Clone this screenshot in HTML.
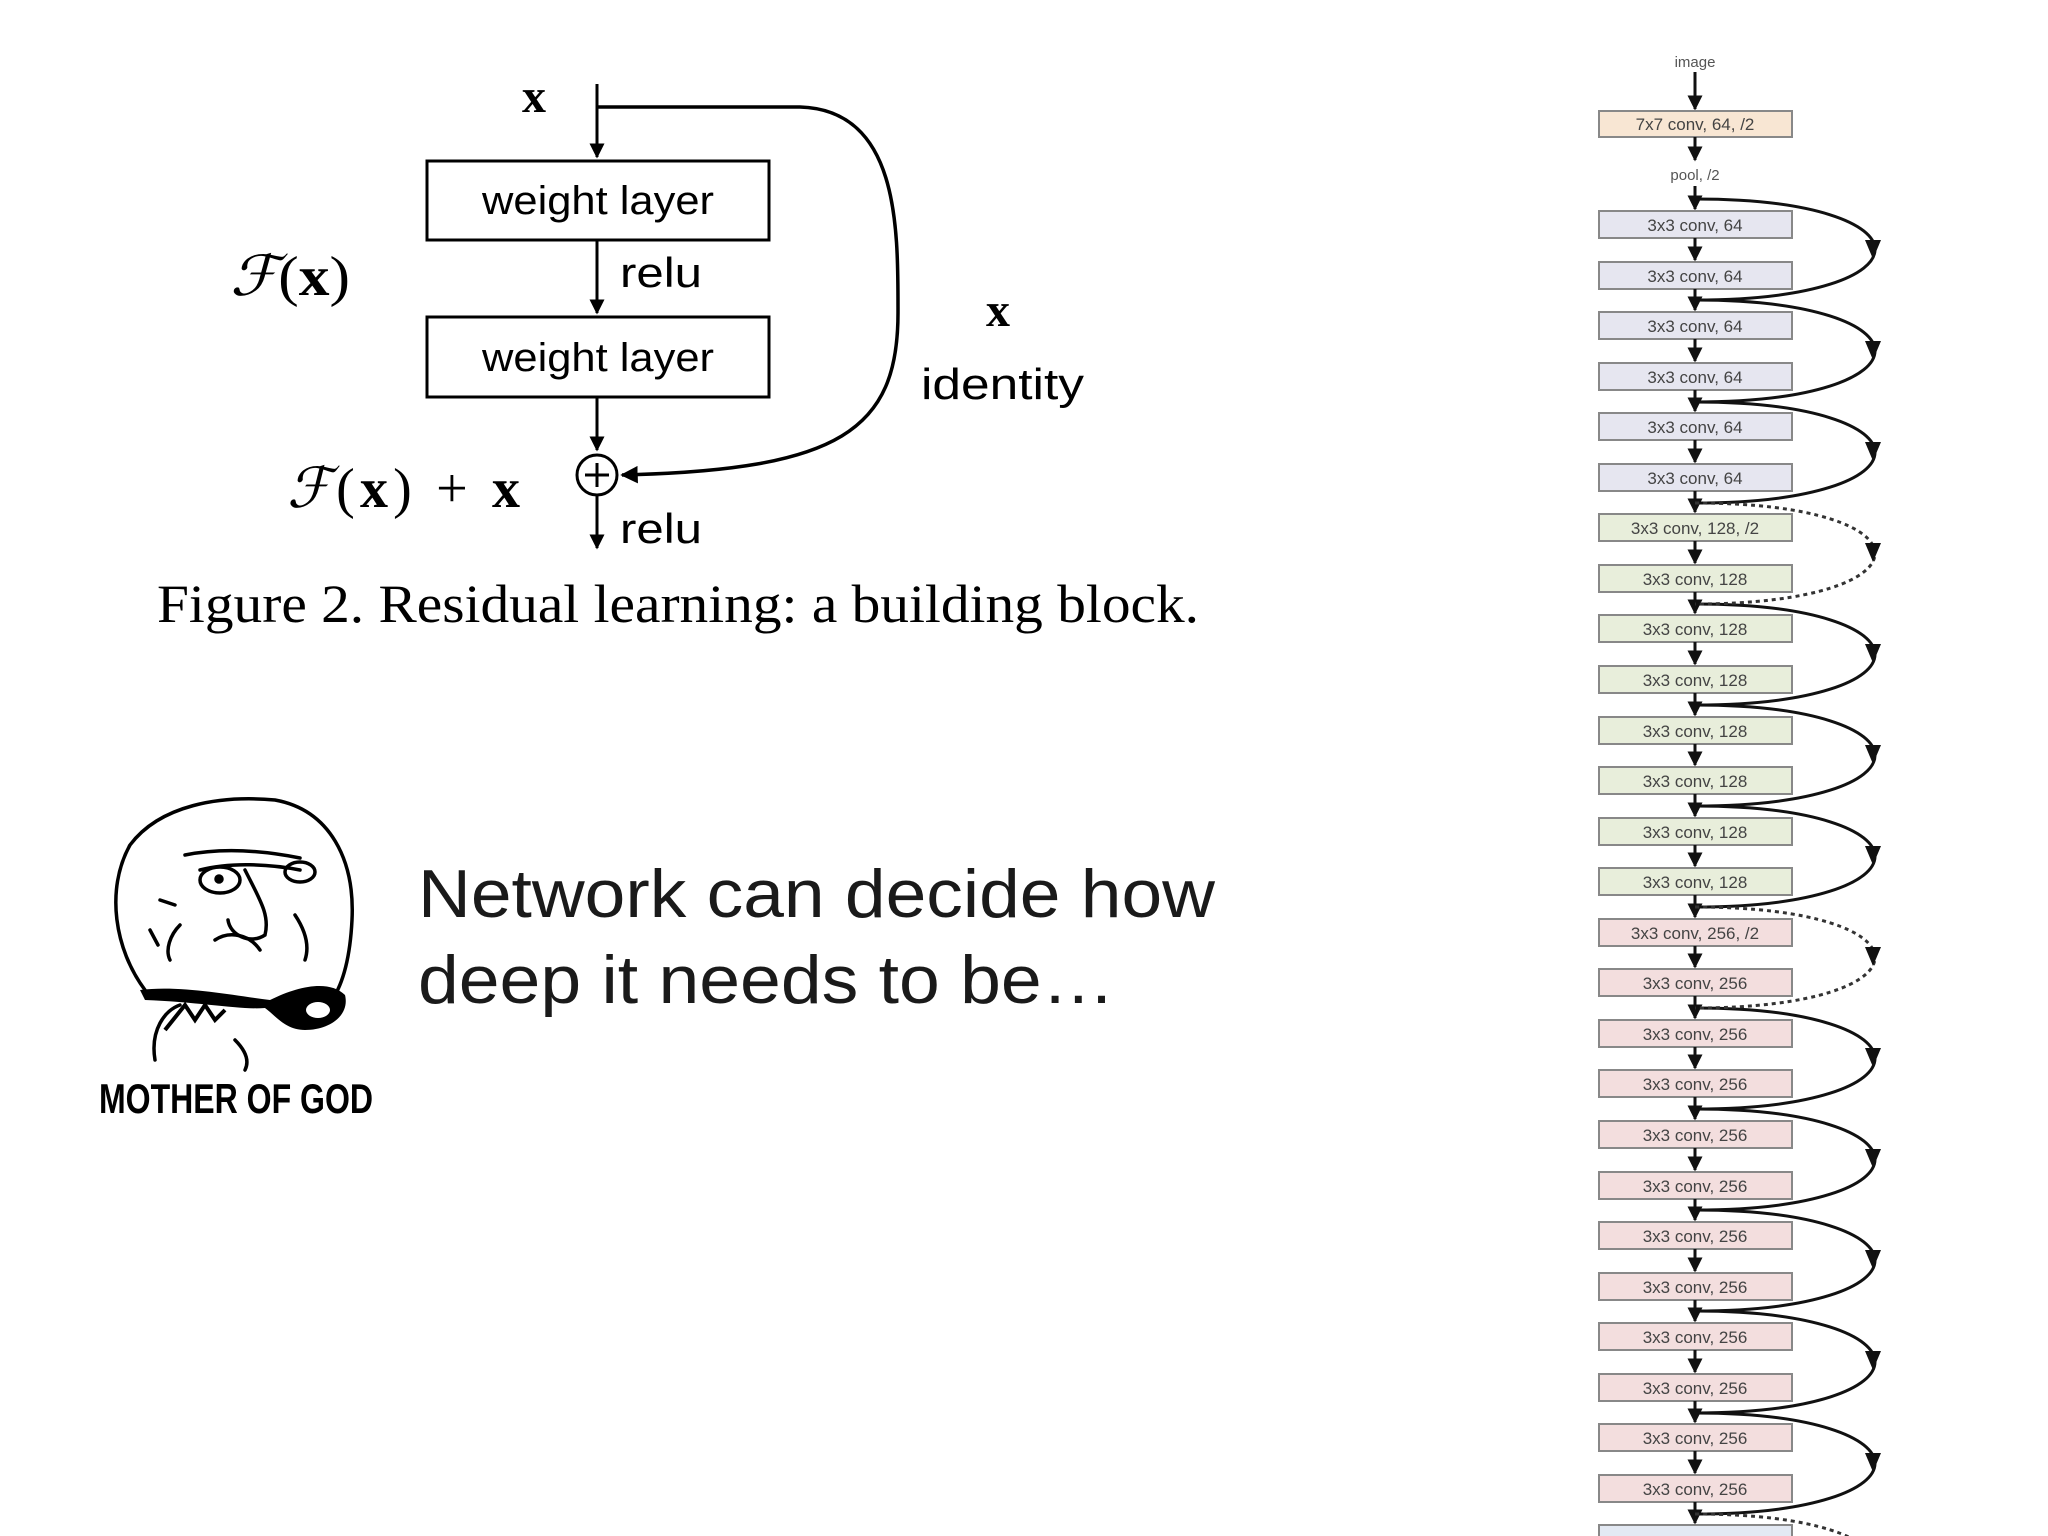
<!DOCTYPE html>
<html><head><meta charset="utf-8"><style>
html,body{margin:0;padding:0;background:#fff;width:2048px;height:1536px;overflow:hidden;}
svg{display:block;}
</style></head><body>
<svg width="2048" height="1536" viewBox="0 0 2048 1536" xmlns="http://www.w3.org/2000/svg">
<defs>
<marker id="ah" viewBox="0 0 10 10" refX="9" refY="5" markerWidth="5" markerHeight="5" orient="auto"><path d="M0,0 L10,5 L0,10 z" fill="#000"/></marker>
<marker id="as" viewBox="0 0 10 10" refX="9" refY="5" markerWidth="5" markerHeight="5" orient="auto"><path d="M0,0 L10,5 L0,10 z" fill="#111"/></marker>
</defs>
<rect width="2048" height="1536" fill="#fff"/>

<!-- Residual block -->
<g font-family="Liberation Sans, sans-serif">
<text x="534" y="112" font-family="Liberation Serif, serif" font-weight="bold" font-size="48" text-anchor="middle">x</text>
<line x1="597" y1="84" x2="597" y2="157" stroke="#000" stroke-width="3" marker-end="url(#ah)"/>
<rect x="427" y="161" width="342" height="79" fill="#fff" stroke="#000" stroke-width="3"/>
<text x="598" y="214" font-size="40" text-anchor="middle" textLength="232" lengthAdjust="spacingAndGlyphs">weight layer</text>
<line x1="597" y1="240" x2="597" y2="313" stroke="#000" stroke-width="3" marker-end="url(#ah)"/>
<text x="620" y="287" font-size="42" textLength="82" lengthAdjust="spacingAndGlyphs">relu</text>
<rect x="427" y="317" width="342" height="80" fill="#fff" stroke="#000" stroke-width="3"/>
<text x="598" y="371" font-size="40" text-anchor="middle" textLength="232" lengthAdjust="spacingAndGlyphs">weight layer</text>
<line x1="597" y1="397" x2="597" y2="450" stroke="#000" stroke-width="3" marker-end="url(#ah)"/>
<circle cx="597" cy="475" r="20" fill="#fff" stroke="#000" stroke-width="3"/>
<line x1="585" y1="475" x2="609" y2="475" stroke="#000" stroke-width="3"/>
<line x1="597" y1="463" x2="597" y2="487" stroke="#000" stroke-width="3"/>
<line x1="597" y1="495" x2="597" y2="548" stroke="#000" stroke-width="3" marker-end="url(#ah)"/>
<text x="620" y="543" font-size="42" textLength="82" lengthAdjust="spacingAndGlyphs">relu</text>
<path d="M597,107 L800,107 C900,110 898,230 898,313 C898,430 840,470 622,475" fill="none" stroke="#000" stroke-width="3.5" marker-end="url(#ah)"/>
<text x="998" y="326" font-family="Liberation Serif, serif" font-weight="bold" font-size="48" text-anchor="middle">x</text>
<text x="921" y="399" font-size="44" textLength="163" lengthAdjust="spacingAndGlyphs">identity</text>
<text x="230" y="295" font-family="Liberation Serif, serif" font-size="56" textLength="120" lengthAdjust="spacingAndGlyphs"><tspan font-style="italic">ℱ</tspan>(<tspan font-weight="bold">x</tspan>)</text>
<text x="287" y="507" font-family="Liberation Serif, serif" font-size="56" textLength="233" lengthAdjust="spacing"><tspan font-style="italic">ℱ</tspan>(<tspan font-weight="bold">x</tspan>) + <tspan font-weight="bold">x</tspan></text>
<text x="157" y="622" font-family="Liberation Serif, serif" font-size="54" textLength="1042" lengthAdjust="spacingAndGlyphs">Figure 2. Residual learning: a building block.</text>
</g>

<!-- Text -->
<text x="418" y="917" font-family="Liberation Sans, sans-serif" font-size="68" fill="#1a1a1a" textLength="797" lengthAdjust="spacingAndGlyphs">Network can decide how</text>
<text x="418" y="1003" font-family="Liberation Sans, sans-serif" font-size="68" fill="#1a1a1a" textLength="697" lengthAdjust="spacingAndGlyphs">deep it needs to be…</text>

<!-- Meme -->
<g fill="none" stroke="#000" stroke-width="3.5" stroke-linecap="round">
<path d="M145,990 C115,950 105,890 130,845 C160,805 220,795 275,800 C330,810 355,860 352,920 C350,960 342,985 332,1000"/>
<path d="M185,855 C220,848 260,850 300,858"/>
<path d="M200,870 C230,862 270,864 300,870"/>
<ellipse cx="220" cy="880" rx="20" ry="13"/>
<circle cx="219" cy="879" r="3" fill="#000"/>
<ellipse cx="300" cy="872" rx="15" ry="10"/>
<path d="M245,870 C260,900 270,915 265,935 C250,945 230,935 228,920"/>
<path d="M215,940 C230,930 250,935 260,950"/>
<path d="M160,900 L175,905 M150,930 L158,945 M180,925 C170,935 165,950 170,960 M295,915 C305,930 310,945 305,960"/>
<path d="M155,1060 C150,1030 165,1010 180,1005 M235,1040 C245,1050 250,1060 245,1070"/>
</g>
<path d="M140,990 C180,985 230,995 270,1000 C300,985 330,980 345,995 C350,1015 330,1030 305,1030 C285,1030 275,1015 265,1008 C240,1010 200,1002 145,1000 Z" fill="#000"/>
<ellipse cx="318" cy="1010" rx="12" ry="8" fill="#fff"/>
<path d="M165,1030 L185,1005 L195,1020 L205,1005 L215,1020 L225,1010" fill="none" stroke="#000" stroke-width="4"/>
<text x="236" y="1113" font-family="Liberation Sans, sans-serif" font-weight="bold" font-size="42" text-anchor="middle" textLength="274" lengthAdjust="spacingAndGlyphs">MOTHER OF GOD</text>

<!-- ResNet column -->
<g font-family="Liberation Sans, sans-serif" font-size="17" fill="#444" text-anchor="middle">
<text x="1695" y="67" font-size="15" fill="#555">image</text>
<line x1="1695" y1="72" x2="1695" y2="109" stroke="#111" stroke-width="3" marker-end="url(#as)"/>
<rect x="1599" y="111" width="193" height="26" fill="#f8e6d3" stroke="#888" stroke-width="2"/>
<text x="1695" y="130">7x7 conv, 64, /2</text>
<line x1="1695" y1="137" x2="1695" y2="160" stroke="#111" stroke-width="3" marker-end="url(#as)"/>
<text x="1695" y="180" font-size="15" fill="#555">pool, /2</text>
<line x1="1695" y1="186" x2="1695" y2="209" stroke="#111" stroke-width="3" marker-end="url(#as)"/>

<g stroke="#888" stroke-width="2">
<rect x="1599" y="211" width="193" height="27" fill="#e6e6f0"/>
<rect x="1599" y="262" width="193" height="27" fill="#e6e6f0"/>
<rect x="1599" y="312" width="193" height="27" fill="#e6e6f0"/>
<rect x="1599" y="363" width="193" height="27" fill="#e6e6f0"/>
<rect x="1599" y="413" width="193" height="27" fill="#e6e6f0"/>
<rect x="1599" y="464" width="193" height="27" fill="#e6e6f0"/>
<rect x="1599" y="514" width="193" height="27" fill="#e8eedb"/>
<rect x="1599" y="565" width="193" height="27" fill="#e8eedb"/>
<rect x="1599" y="615" width="193" height="27" fill="#e8eedb"/>
<rect x="1599" y="666" width="193" height="27" fill="#e8eedb"/>
<rect x="1599" y="717" width="193" height="27" fill="#e8eedb"/>
<rect x="1599" y="767" width="193" height="27" fill="#e8eedb"/>
<rect x="1599" y="818" width="193" height="27" fill="#e8eedb"/>
<rect x="1599" y="868" width="193" height="27" fill="#e8eedb"/>
<rect x="1599" y="919" width="193" height="27" fill="#f3dede"/>
<rect x="1599" y="969" width="193" height="27" fill="#f3dede"/>
<rect x="1599" y="1020" width="193" height="27" fill="#f3dede"/>
<rect x="1599" y="1070" width="193" height="27" fill="#f3dede"/>
<rect x="1599" y="1121" width="193" height="27" fill="#f3dede"/>
<rect x="1599" y="1172" width="193" height="27" fill="#f3dede"/>
<rect x="1599" y="1222" width="193" height="27" fill="#f3dede"/>
<rect x="1599" y="1273" width="193" height="27" fill="#f3dede"/>
<rect x="1599" y="1323" width="193" height="27" fill="#f3dede"/>
<rect x="1599" y="1374" width="193" height="27" fill="#f3dede"/>
<rect x="1599" y="1424" width="193" height="27" fill="#f3dede"/>
<rect x="1599" y="1475" width="193" height="27" fill="#f3dede"/>
<rect x="1599" y="1525" width="193" height="27" fill="#e3e9f3"/>
</g>
<text x="1695" y="231">3x3 conv, 64</text>
<text x="1695" y="282">3x3 conv, 64</text>
<text x="1695" y="332">3x3 conv, 64</text>
<text x="1695" y="383">3x3 conv, 64</text>
<text x="1695" y="433">3x3 conv, 64</text>
<text x="1695" y="484">3x3 conv, 64</text>
<text x="1695" y="534">3x3 conv, 128, /2</text>
<text x="1695" y="585">3x3 conv, 128</text>
<text x="1695" y="635">3x3 conv, 128</text>
<text x="1695" y="686">3x3 conv, 128</text>
<text x="1695" y="737">3x3 conv, 128</text>
<text x="1695" y="787">3x3 conv, 128</text>
<text x="1695" y="838">3x3 conv, 128</text>
<text x="1695" y="888">3x3 conv, 128</text>
<text x="1695" y="939">3x3 conv, 256, /2</text>
<text x="1695" y="989">3x3 conv, 256</text>
<text x="1695" y="1040">3x3 conv, 256</text>
<text x="1695" y="1090">3x3 conv, 256</text>
<text x="1695" y="1141">3x3 conv, 256</text>
<text x="1695" y="1192">3x3 conv, 256</text>
<text x="1695" y="1242">3x3 conv, 256</text>
<text x="1695" y="1293">3x3 conv, 256</text>
<text x="1695" y="1343">3x3 conv, 256</text>
<text x="1695" y="1394">3x3 conv, 256</text>
<text x="1695" y="1444">3x3 conv, 256</text>
<text x="1695" y="1495">3x3 conv, 256</text>
</g>

<!-- vertical arrows between boxes -->
<g stroke="#111" stroke-width="3" marker-end="url(#as)">
<line x1="1695" y1="238" x2="1695" y2="260"/>
<line x1="1695" y1="289" x2="1695" y2="310"/>
<line x1="1695" y1="339" x2="1695" y2="361"/>
<line x1="1695" y1="390" x2="1695" y2="411"/>
<line x1="1695" y1="440" x2="1695" y2="462"/>
<line x1="1695" y1="491" x2="1695" y2="512"/>
<line x1="1695" y1="541" x2="1695" y2="563"/>
<line x1="1695" y1="592" x2="1695" y2="613"/>
<line x1="1695" y1="642" x2="1695" y2="664"/>
<line x1="1695" y1="693" x2="1695" y2="715"/>
<line x1="1695" y1="744" x2="1695" y2="765"/>
<line x1="1695" y1="794" x2="1695" y2="816"/>
<line x1="1695" y1="845" x2="1695" y2="866"/>
<line x1="1695" y1="895" x2="1695" y2="917"/>
<line x1="1695" y1="946" x2="1695" y2="967"/>
<line x1="1695" y1="996" x2="1695" y2="1018"/>
<line x1="1695" y1="1047" x2="1695" y2="1068"/>
<line x1="1695" y1="1097" x2="1695" y2="1119"/>
<line x1="1695" y1="1148" x2="1695" y2="1170"/>
<line x1="1695" y1="1199" x2="1695" y2="1220"/>
<line x1="1695" y1="1249" x2="1695" y2="1271"/>
<line x1="1695" y1="1300" x2="1695" y2="1321"/>
<line x1="1695" y1="1350" x2="1695" y2="1372"/>
<line x1="1695" y1="1401" x2="1695" y2="1422"/>
<line x1="1695" y1="1451" x2="1695" y2="1473"/>
<line x1="1695" y1="1502" x2="1695" y2="1523"/>
</g>

<!-- skip connections -->
<g fill="none" stroke="#111" stroke-width="3">
<path d="M1695,199 C1935,199 1935,300 1695,300"/>
<path d="M1695,300 C1935,300 1935,402 1695,402"/>
<path d="M1695,402 C1935,402 1935,503 1695,503"/>
<path d="M1695,604 C1935,604 1935,705 1695,705"/>
<path d="M1695,705 C1935,705 1935,806 1695,806"/>
<path d="M1695,806 C1935,806 1935,907 1695,907"/>
<path d="M1695,1008 C1935,1008 1935,1109 1695,1109"/>
<path d="M1695,1109 C1935,1109 1935,1210 1695,1210"/>
<path d="M1695,1210 C1935,1210 1935,1311 1695,1311"/>
<path d="M1695,1311 C1935,1311 1935,1413 1695,1413"/>
<path d="M1695,1413 C1935,1413 1935,1514 1695,1514"/>
</g>
<g fill="none" stroke="#333" stroke-width="3" stroke-dasharray="4 4">
<path d="M1695,503 C1935,503 1935,604 1695,604"/>
<path d="M1695,907 C1935,907 1935,1008 1695,1008"/>
<path d="M1695,1514 C1935,1514 1935,1615 1695,1615"/>
</g>
<g fill="#111">
<polygon points="1865,240 1881,240 1873,259"/>
<polygon points="1865,341 1881,341 1873,360"/>
<polygon points="1865,442 1881,442 1873,461"/>
<polygon points="1865,543 1881,543 1873,562"/>
<polygon points="1865,644 1881,644 1873,663"/>
<polygon points="1865,745 1881,745 1873,764"/>
<polygon points="1865,846 1881,846 1873,865"/>
<polygon points="1865,947 1881,947 1873,966"/>
<polygon points="1865,1048 1881,1048 1873,1067"/>
<polygon points="1865,1149 1881,1149 1873,1168"/>
<polygon points="1865,1250 1881,1250 1873,1269"/>
<polygon points="1865,1351 1881,1351 1873,1370"/>
<polygon points="1865,1453 1881,1453 1873,1472"/>
</g>
</svg>
</body></html>
